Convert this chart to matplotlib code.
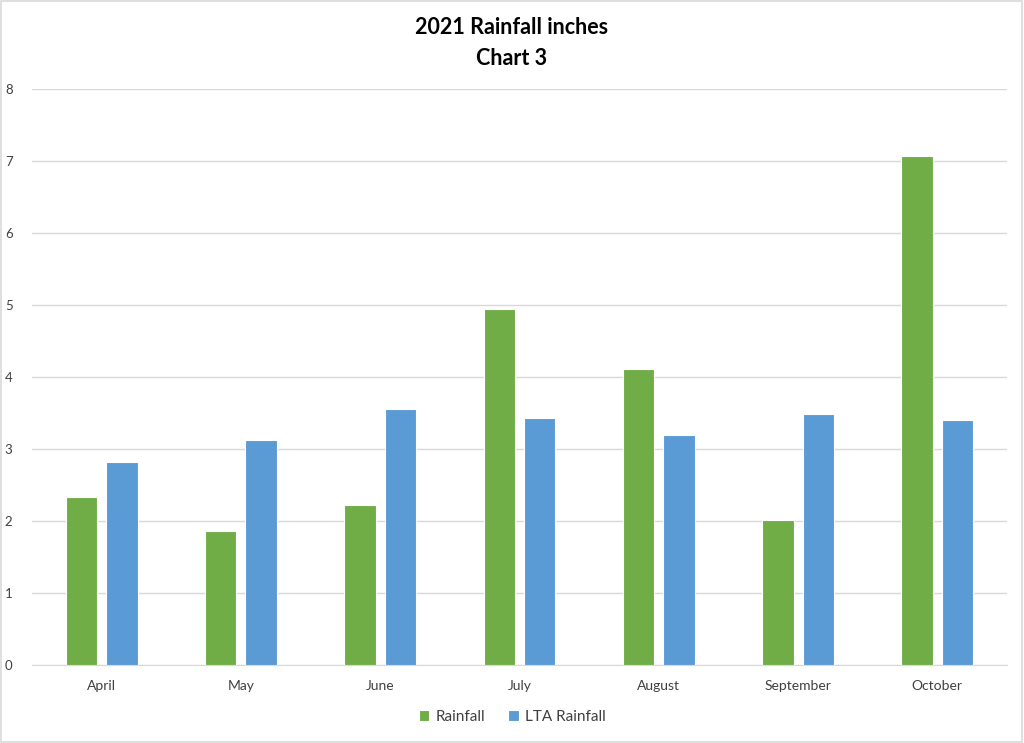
import matplotlib
matplotlib.use("Agg")
import matplotlib.pyplot as plt
import numpy as np

months = ["April", "May", "June", "July", "August", "September", "October"]
rainfall = [2.33, 1.86, 2.22, 4.94, 4.11, 2.01, 7.07]
lta_rainfall = [2.82, 3.12, 3.55, 3.43, 3.19, 3.49, 3.40]
yticks = [0, 1, 2, 3, 4, 5, 6, 7, 8]

plt.rcParams['font.family'] = ['Lato', 'DejaVu Sans']

fig = plt.figure(figsize=(10.24, 7.43), dpi=100)
ax = fig.add_axes([32/1024, 1-665/743, 975/1024, 576/743])

x = np.arange(len(months))
w = 0.225
ax.bar(x - 0.145, rainfall, w, color="#70AD47", edgecolor="white", linewidth=0.8, label="Rainfall", zorder=3)
ax.bar(x + 0.145, lta_rainfall, w, color="#5B9BD5", edgecolor="white", linewidth=0.8, label="LTA Rainfall", zorder=3)

ax.set_xlim(-0.5, len(months) - 0.5)
ax.set_ylim(0, 8)
ax.set_yticks(yticks)
ax.set_yticklabels([str(t) for t in yticks], fontsize=9.5, color="#404040")
ax.set_xticks(x)
ax.set_xticklabels(months, fontsize=10, color="#404040")
ax.tick_params(axis='both', length=0)
ax.tick_params(axis='y', pad=14)
ax.tick_params(axis='x', pad=10.5)
ax.grid(axis='y', color="#D9D9D9", linewidth=1, zorder=0)
for s in ["top", "right", "left"]:
    ax.spines[s].set_visible(False)
ax.spines["bottom"].set_color("#D9D9D9")

fig.text(0.5, 1-43/743, "2021 Rainfall inches\nChart 3", ha="center", va="center",
         fontsize=15.5, fontweight="bold", color="black", linespacing=1.55)

leg = fig.legend(loc="center", bbox_to_anchor=(0.5, 1-717/743), ncol=2, frameon=False,
                 fontsize=11, handlelength=0.7, handleheight=0.7, handletextpad=0.4,
                 columnspacing=1.5)
for t in leg.get_texts():
    t.set_color("#404040")

border = plt.Rectangle((0.001, 0.001), 0.997, 0.997, transform=fig.transFigure,
                       fill=False, edgecolor="#D9D9D9", linewidth=1.2)
fig.patches.append(border)

fig.savefig("out.png", dpi=100, facecolor="white")
